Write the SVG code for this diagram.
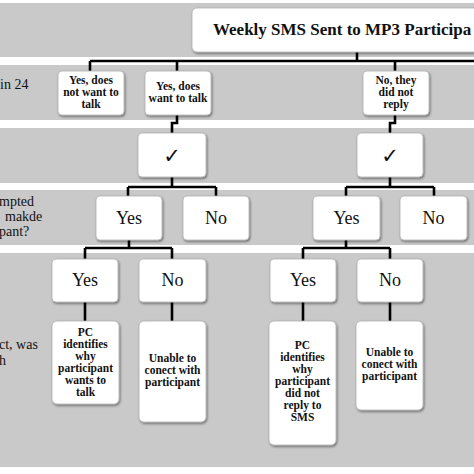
<svg xmlns="http://www.w3.org/2000/svg" width="474" height="474" viewBox="0 0 474 474">
<defs>
<filter id="sh" x="-20%" y="-20%" width="140%" height="140%">
<feDropShadow dx="1" dy="1.5" stdDeviation="1" flood-color="#000" flood-opacity="0.45"/>
</filter>
<style>
.band{fill:#c9c9c9}
.box{fill:#fff;stroke:#b0b0b0;stroke-width:0.8;filter:url(#sh)}
.t{font-family:"Liberation Serif","Times New Roman",serif;font-weight:bold;font-size:11.5px;fill:#111;text-anchor:middle}
.big{font-family:"Liberation Serif","Times New Roman",serif;font-size:18px;fill:#111;text-anchor:middle}
.lab{font-family:"Liberation Serif","Times New Roman",serif;font-size:14px;fill:#111}
.chk{font-family:"DejaVu Sans",sans-serif;font-weight:bold;font-size:21px;fill:#111;text-anchor:middle}
.c{fill:none;stroke:#000;stroke-width:2.6}
</style>
</defs>
<rect width="474" height="474" fill="#fff"/>
<g id="bands">
<rect class="band" x="0" y="3" width="474" height="54"/>
<rect class="band" x="0" y="65" width="474" height="55"/>
<rect class="band" x="0" y="128" width="474" height="55"/>
<rect class="band" x="0" y="190" width="474" height="55"/>
<rect class="band" x="0" y="253" width="474" height="214"/>
</g>
<g id="labels">
<text class="lab" x="0" y="89">in 24</text>
<text class="lab" x="-1" y="206">mpted</text>
<text class="lab" x="5" y="221">makde</text>
<text class="lab" x="-1" y="236">pant?</text>
<text class="lab" x="-1" y="349">ct, was</text>
<text class="lab" x="-1" y="365">h</text>
</g>
<g id="connectors">
<path class="c" d="M357 52V61M90 61H476M90 61V71M177 61V71M395 61V71"/>
<path class="c" d="M177 115V123H172V133M395 115V123H390V133"/>
<path class="c" d="M172 177V187M128 187H216M128 187V196M216 187V196"/>
<path class="c" d="M390 177V187M346 187H434M346 187V196M434 187V196"/>
<path class="c" d="M129 240V248M85 248H172M85 248V259M172 248V259"/>
<path class="c" d="M346 240V248M303 248H390M303 248V259M390 248V259"/>
<path class="c" d="M85 302V321M172 302V321M303 302V321M390 302V321"/>
</g>
<g id="title">
<rect class="box" x="192" y="8" width="300" height="44" rx="5"/>
<text x="213" y="35" style="font-family:'Liberation Serif','Times New Roman',serif;font-weight:bold;font-size:17px;fill:#111">Weekly SMS Sent to MP3 Participa</text>
</g>
<g id="n-notwant">
<rect class="box" x="58" y="71" width="66" height="44" rx="4"/>
<text class="t" x="91" y="84">Yes, does</text>
<text class="t" x="91" y="96">not want to</text>
<text class="t" x="91" y="108">talk</text>
</g>
<g id="n-want">
<rect class="box" x="145" y="71" width="66" height="44" rx="4"/>
<text class="t" x="178" y="90">Yes, does</text>
<text class="t" x="178" y="102">want to talk</text>
</g>
<g id="n-noreply">
<rect class="box" x="363" y="71" width="66" height="44" rx="4"/>
<text class="t" x="396" y="84">No, they</text>
<text class="t" x="396" y="96">did not</text>
<text class="t" x="396" y="108">reply</text>
</g>
<g id="n-check1">
<rect class="box" x="138" y="133" width="68" height="44" rx="4"/>
<text class="chk" x="172" y="163">✓</text>
</g>
<g id="n-check2">
<rect class="box" x="357" y="133" width="66" height="44" rx="4"/>
<text class="chk" x="390" y="163">✓</text>
</g>
<g id="n-att-yes1">
<rect class="box" x="96" y="196" width="66" height="44" rx="4"/>
<text class="big" x="129" y="224">Yes</text>
</g>
<g id="n-att-no1">
<rect class="box" x="183" y="196" width="66" height="44" rx="4"/>
<text class="big" x="216" y="224">No</text>
</g>
<g id="n-att-yes2">
<rect class="box" x="313" y="196" width="67" height="44" rx="4"/>
<text class="big" x="346.5" y="224">Yes</text>
</g>
<g id="n-att-no2">
<rect class="box" x="400" y="196" width="67" height="44" rx="4"/>
<text class="big" x="433.5" y="224">No</text>
</g>
<g id="n-con-yes1">
<rect class="box" x="52" y="259" width="66" height="43" rx="4"/>
<text class="big" x="85" y="286">Yes</text>
</g>
<g id="n-con-no1">
<rect class="box" x="139" y="259" width="67" height="43" rx="4"/>
<text class="big" x="172.5" y="286">No</text>
</g>
<g id="n-con-yes2">
<rect class="box" x="270" y="259" width="66" height="43" rx="4"/>
<text class="big" x="303" y="286">Yes</text>
</g>
<g id="n-con-no2">
<rect class="box" x="357" y="259" width="66" height="43" rx="4"/>
<text class="big" x="390" y="286">No</text>
</g>
<g id="n-pc1">
<rect class="box" x="52" y="321" width="67" height="83" rx="5"/>
<text class="t" x="85.5" y="335.5">PC</text>
<text class="t" x="85.5" y="347.5">identifies</text>
<text class="t" x="85.5" y="359.5">why</text>
<text class="t" x="85.5" y="371.5">participant</text>
<text class="t" x="85.5" y="383.5">wants to</text>
<text class="t" x="85.5" y="395.5">talk</text>
</g>
<g id="n-unable1">
<rect class="box" x="139" y="321" width="67" height="101" rx="5"/>
<text class="t" x="172.5" y="362">Unable to</text>
<text class="t" x="172.5" y="374">conect with</text>
<text class="t" x="172.5" y="386">participant</text>
</g>
<g id="n-pc2">
<rect class="box" x="269" y="321" width="67" height="124" rx="5"/>
<text class="t" x="302.5" y="349">PC</text>
<text class="t" x="302.5" y="361">identifies</text>
<text class="t" x="302.5" y="373">why</text>
<text class="t" x="302.5" y="385">participant</text>
<text class="t" x="302.5" y="397">did not</text>
<text class="t" x="302.5" y="409">reply to</text>
<text class="t" x="302.5" y="421">SMS</text>
</g>
<g id="n-unable2">
<rect class="box" x="356" y="321" width="67" height="89" rx="5"/>
<text class="t" x="389.5" y="356">Unable to</text>
<text class="t" x="389.5" y="368">conect with</text>
<text class="t" x="389.5" y="380">participant</text>
</g>
</svg>
